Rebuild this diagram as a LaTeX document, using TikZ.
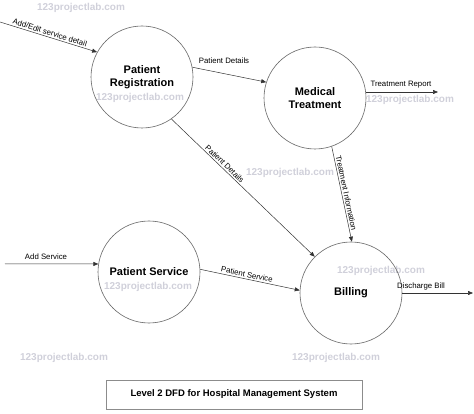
\documentclass[tikz,border=0pt]{standalone}
\usepackage{fontspec}
\setmainfont{Liberation Sans}
\usetikzlibrary{arrows.meta}
\definecolor{wmgray}{RGB}{208,208,218}
\begin{document}
\begin{tikzpicture}[x=1pt,y=-1pt,
 process/.style={circle, draw=black!60, line width=0.6pt, minimum size=102pt, inner sep=0pt, align=center, font=\fontsize{11}{13.5}\selectfont\bfseries},
 flow/.style={draw=black!80, line width=0.5pt, -{Triangle[length=5pt,width=4pt]}},
 lbl/.style={font=\fontsize{7.8}{9}\selectfont, inner sep=1.5pt},
 wm/.style={font=\fontsize{10}{12}\selectfont\bfseries, text=wmgray, inner sep=0pt},
 titlebox/.style={draw=black!45, line width=0.6pt, minimum width=256pt, minimum height=29pt, font=\fontsize{9.5}{11}\selectfont\bfseries}
]
\useasboundingbox (0,0) rectangle (474,414);
% watermarks
\node[wm] (w1) at (81,8) {123projectlab.com};
\node[wm] (w2) at (140,98) {123projectlab.com};
\node[wm] (w3) at (290,173) {123projectlab.com};
\node[wm] (w4) at (410,100) {123projectlab.com};
\node[wm] (w5) at (148,287) {123projectlab.com};
\node[wm] (w6) at (381,271) {123projectlab.com};
\node[wm] (w7) at (64,358) {123projectlab.com};
\node[wm] (w8) at (336,358) {123projectlab.com};
% processes
\node[process] (reg) at (142,77) {Patient\\Registration};
\node[process] (med) at (315,98) {Medical\\Treatment};
\node[process] (ps) at (149,272) {Patient Service};
\node[process] (bill) at (351,293) {Billing};
% free ends
\coordinate (inA) at (0,22);
\coordinate (inS) at (5,264);
\coordinate (outT) at (438,92);
\coordinate (outD) at (473,293);
% flows
\draw[flow] (inA) -- node[lbl, sloped, above, pos=0.5] (l1) {Add/Edit service detail} (reg.151);
\draw[flow] (reg.11) -- (med.162);
\node[lbl] (l2) at (224,61) {Patient Details};
\draw[flow] (med.east |- outT) -- (outT);
\node[lbl] (l3) at (401,85) {Treatment Report};
\draw[flow] (reg.-55) -- node[lbl, sloped, above, pos=0.35] (l4) {Patient Details} (bill.135);
\draw[flow] (med.-71) -- node[lbl, sloped, above, pos=0.5] (l5) {Treatment Information} (bill.89);
\draw[flow] (inS) -- (ps.171);
\node[lbl] (l6) at (46,257) {Add Service};
\draw[flow] (ps.3) -- node[lbl, sloped, above, pos=0.46] (l7) {Patient Service} (bill.177);
\draw[flow] (bill.east) -- (outD);
\node[lbl] (l8) at (421,286) {Discharge Bill};
% title
\node[titlebox] (title) at (234,394.5) {Level 2 DFD for Hospital Management System};
\end{tikzpicture}
\end{document}
